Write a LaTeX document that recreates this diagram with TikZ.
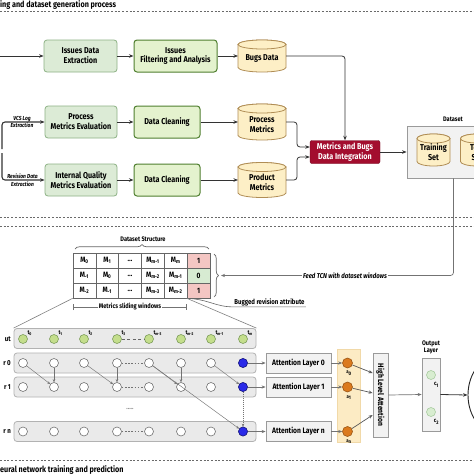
\documentclass[tikz,border=0pt]{standalone}
\usepackage{fontspec}
\setmainfont{Fira Sans}[FakeStretch=0.85]
\usetikzlibrary{arrows.meta,decorations.pathreplacing,calc,shapes.geometric}
\definecolor{gfillA}{HTML}{DCEBD6}
\definecolor{gdrawA}{HTML}{8DB285}
\definecolor{gfillB}{HTML}{E4F2CE}
\definecolor{gdrawB}{HTML}{4F7F2F}
\definecolor{cfill}{HTML}{FDEFC6}
\definecolor{cdraw}{HTML}{B08D55}
\definecolor{redbox}{HTML}{A30D2E}
\definecolor{grayfill}{HTML}{F2F2F2}
\definecolor{graydraw}{HTML}{9A9A9A}
\definecolor{rowfill}{HTML}{EAEAEA}
\definecolor{ingreen}{HTML}{C4DE8C}
\definecolor{ingreenD}{HTML}{7E9E5C}
\definecolor{blueN}{HTML}{2A2AE8}
\definecolor{orangeN}{HTML}{DB7A1E}
\definecolor{orangeCol}{HTML}{FCEBC4}
\definecolor{orangeColD}{HTML}{F1D9A8}
\definecolor{cellred}{HTML}{F4C6C3}
\definecolor{cellgreen}{HTML}{D7EBD2}
\definecolor{outc}{HTML}{D8EDD0}
\definecolor{outcD}{HTML}{A9CBA0}
\definecolor{dashc}{HTML}{6A6A6A}
\tikzset{
  fA/.style={font=\fontsize{8.5}{9.8}\selectfont\bfseries},
  fB/.style={font=\fontsize{7.9}{9}\selectfont\bfseries},
  fS/.style={font=\fontsize{6.6}{7.6}\selectfont\bfseries},
  fT/.style={font=\fontsize{5.8}{6.2}\selectfont\bfseries\itshape},
  boxA/.style={draw=gdrawA, fill=gfillA, rounded corners=3pt, line width=0.8pt, minimum width=73pt, minimum height=32pt, align=center, inner sep=1pt, fA},
  boxB/.style={boxA, draw=gdrawB, fill=gfillB, line width=1pt},
  redb/.style={draw=redbox!70!black, fill=redbox, text=white, rounded corners=2pt, minimum width=70pt, minimum height=23pt, align=center, inner sep=1pt, fA},
  grayb/.style={draw=graydraw, fill=grayfill, line width=0.8pt, inner sep=1pt},
  cylsty/.style={draw=cdraw, fill=cfill, line width=0.8pt},
  cyltxt/.style={align=center, inner sep=0pt, fA},
  arr/.style={-{Stealth[length=4.5pt,width=3.5pt]}, line width=0.8pt, draw=black!80},
  garr/.style={-{Stealth[length=4pt,width=3.2pt]}, line width=0.7pt, draw=black!55},
  conn/.style={-{Stealth[length=3pt,width=2.5pt]}, line width=0.45pt, draw=black!55},
  sep/.style={draw=dashc, line width=0.9pt, dash pattern=on 2pt off 1.7pt},
  cell/.style={draw=black!60, fill=white, line width=0.6pt, minimum width=22.83pt, minimum height=15pt, inner sep=0pt, font=\fontsize{7.7}{8}\selectfont\bfseries},
  brc/.style={decorate, decoration={brace, amplitude=4.5pt}, draw=black!60, line width=0.7pt},
  rowb/.style={draw=black!30, fill=rowfill, rounded corners=3pt, line width=0.8pt, minimum width=242pt, minimum height=20pt},
  cnode/.style={circle, minimum size=9pt, inner sep=0pt, line width=0.6pt, draw=black!55, fill=white},
  innode/.style={cnode, fill=ingreen, draw=ingreenD},
  bnode/.style={cnode, fill=blueN, draw=blueN!60!black},
  onode/.style={circle, minimum size=10pt, inner sep=0pt, line width=0.6pt, fill=orangeN, draw=orangeN!70!black},
  tl/.style={font=\fontsize{5.8}{6}\selectfont\bfseries, inner sep=0.5pt},
  rl/.style={font=\fontsize{7.2}{8}\selectfont\bfseries, anchor=east, inner sep=0pt},
}
\newcommand\mkcyl[6]{%
  \filldraw[cylsty] ({#2-#4/2},{-(#3)+#5/2-4.5}) -- ({#2-#4/2},{-(#3)-#5/2+4.5})
    arc[start angle=180,end angle=360,x radius=#4/2,y radius=4.5]
    -- ({#2+#4/2},{-(#3)+#5/2-4.5})
    arc[start angle=0,end angle=180,x radius=#4/2,y radius=4.5] -- cycle;
  \draw[cylsty] (#2,{-(#3)+#5/2-4.5}) ellipse[x radius=#4/2,y radius=4.5];
  \node[inner sep=0pt, outer sep=0pt, minimum width=#4pt, minimum height=#5pt] (#1) at (#2,-#3) {};
  \node[cyltxt] (#1-t) at (#2,{-(#3)-2.5}) {#6};}
\begin{document}
\begin{tikzpicture}[x=1pt,y=1pt]
\fill[white] (0,0) rectangle (474,-474);
\useasboundingbox (0,0) rectangle (474,-474);

% titles and separators
\node[fA, anchor=west, inner sep=0pt] (ttop) at (0,-4.5) {ing and dataset generation process};
\node[fA, anchor=west, inner sep=0pt] (tbot) at (0,-469.5) {eural network training and prediction};
\draw[sep] (0,-11) -- (474,-11);
\draw[sep] (0,-217) -- (474,-217);
\draw[sep] (0,-226) -- (474,-226);
\draw[sep] (0,-460) -- (474,-460);

% top panel
\node[boxA] (ide) at (80.5,-56) {Issues Data\\Extraction};
\node[boxB, minimum width=83pt] (ifa) at (175.5,-56) {Issues\\Filtering and Analysis};
\mkcyl{bugs}{262}{56}{48}{32}{Bugs Data}
\node[boxA, minimum width=72pt] (pme) at (81,-122) {Process\\Metrics Evaluation};
\node[boxB, minimum width=66pt] (dc1) at (167,-122) {Data Cleaning};
\mkcyl{pm}{262}{122}{48}{36}{Process\\Metrics}
\node[boxA, minimum width=72pt] (iqe) at (81,-180) {Internal Quality\\Metrics Evaluation};
\node[boxB, minimum width=66pt] (dc2) at (167,-180) {Data Cleaning};
\mkcyl{prm}{262}{180}{48}{35}{Product\\Metrics}
\node[redb] (integ) at (345,-152) {Metrics and Bugs\\Data Integration};
\node[grayb, minimum width=93pt, minimum height=52pt] (ds) at (453.5,-152) {};
\node[fS] (dslab) at (453,-119) {Dataset};
\mkcyl{train}{433.5}{150}{33}{32}{Training\\Set}
\mkcyl{test}{477}{150}{33}{32}{Test\\Set}

\coordinate (in1) at (0,-56);
\draw[arr] (in1) -- (ide.west);
\draw[arr] (ide.east) -- (ifa.west);
\draw[arr] (ifa.east) -- (bugs.west);
\draw[arr] (pme.east) -- (dc1.west);
\draw[arr] (dc1.east) -- (pm.west);
\draw[arr] (iqe.east) -- (dc2.west);
\draw[arr] (dc2.east) -- (prm.west);
\draw[arr, rounded corners=3pt] (bugs.east) -| (integ.north);
\draw[arr, rounded corners=3pt] (pm.east) -- ++(11,0) |- ([yshift=5pt]integ.west);
\draw[arr, rounded corners=3pt] (prm.east) -- ++(11,0) |- ([yshift=-5pt]integ.west);
\draw[arr] (integ.east) -- (integ.east -| ds.west);

\coordinate (fork) at (2,-151);
\draw[arr, line width=1.1pt, rounded corners=3pt] ([yshift=2pt]fork) |- (pme.west);
\draw[arr, line width=1.1pt, rounded corners=3pt] ([yshift=-2pt]fork) |- (iqe.west);
\node[fT, align=center] (vcs) at (22,-122) {VCS Log\\[1.4pt]Extraction};
\node[fT, align=center] (rev) at (22.5,-180) {Revision Data\\[1.4pt]Extraction};

% dataset structure
\foreach \t [count=\j] in {M\textsubscript{0},M\textsubscript{1},\ldots,M\textsubscript{m-1},M\textsubscript{m},1}
  \node[cell] (c1\j) at ({73+22.83*(\j-0.5)},-260.5) {\t};
\foreach \t [count=\j] in {M\textsubscript{-1},M\textsubscript{0},\ldots,M\textsubscript{m-2},M\textsubscript{m-1},0}
  \node[cell] (c2\j) at ({73+22.83*(\j-0.5)},-275.5) {\t};
\foreach \t [count=\j] in {M\textsubscript{-2},M\textsubscript{-1},\ldots,M\textsubscript{m-3},M\textsubscript{m-2},1}
  \node[cell] (c3\j) at ({73+22.83*(\j-0.5)},-290.5) {\t};
\node[cell, fill=cellred] at (c16) {1};
\node[cell, fill=cellgreen] at (c26) {0};
\node[cell, fill=cellred] at (c36) {1};

\draw[brc] (75,-249) -- (209,-249);
\node[fS] (dsst) at (143,-239) {Dataset Structure};
\draw[brc] (214,-254) -- (214,-297);
\coordinate (feedend) at (221,-275.5);
\draw[garr, rounded corners=3pt] (ds.south) |- (feedend);
\node[fill=white, inner sep=1.5pt, font=\fontsize{7}{7.5}\selectfont\bfseries\itshape] (feed) at (345,-275.5) {Feed TCN with dataset windows};

\coordinate (msw1) at (73,-307);
\coordinate (msw2) at (187,-307);
\draw[{Bar[width=6pt]}-{Bar[width=6pt]}, draw=black!55, line width=0.6pt] (msw1) -- (msw2);
\node[fill=white, inner sep=1pt, font=\fontsize{6.7}{7}\selectfont\bfseries] (mswl) at (130,-306.5) {Metrics sliding windows};
\node[font=\fontsize{7.1}{7.6}\selectfont\bfseries, inner sep=1pt] (bug) at (269.5,-302) {Bugged revision attribute};
\draw[black!60, line width=0.6pt] (c36.south west) .. controls +(22,-1) and +(-18,0) .. (bug.south west) -- (bug.south east);

% neural network
\node[rowb] (inrow) at (135,-338.5) {};
\node[rowb] (r0) at (135,-363) {};
\node[rowb] (r1) at (135,-387) {};
\node[rowb] (rn) at (135,-431.5) {};
\draw[black!50, line width=0.6pt] (c31.south west) -- (inrow.north west);
\draw[black!50, line width=0.6pt] (c36.south west) -- (inrow.north east);
\node[rl] (lin) at (11,-339) {ut};
\node[rl] (l0) at (11,-363) {r 0};
\node[rl] (l1) at (11,-387) {r 1};
\node[rl] (ln) at (11,-431.5) {r n};

\foreach \x [count=\k from 0] in {23,54,84,117,149,181,211,243}{
  \node[innode] (i\k) at (\x,-339) {};
  \node[cnode] (a\k) at (\x,-363) {};
  \node[cnode] (b\k) at (\x,-387) {};
  \node[cnode] (n\k) at (\x,-431.5) {};
}
\foreach \k in {a,b,n} \node[bnode] at (\k7) {};
\foreach \s [count=\k from 0] in {0,1,2,3,m-3,m-2,m-1,m}
  \node[tl, anchor=south west] at ([xshift=0.5pt,yshift=-1pt]i\k.north east) {t\textsubscript{\s}};
\draw[black!60, line width=0.6pt, dash pattern=on 3pt off 2.5pt] (i3) -- (i4);
\foreach \k in {a,b,n} \draw[black!55, line width=0.6pt, dash pattern=on 1.6pt off 1.6pt] (\k3) -- (\k4);
\node[font=\fontsize{7}{7}\selectfont\bfseries, text=black!45] (dots) at (130,-409) {.....};

\draw[conn] (a0) -- (b1);
\draw[conn] (a1) -- (b1);
\draw[conn] (a2) -- (b3);
\draw[conn] (a3) -- (b3);
\draw[conn] (a4) -- (b5);
\draw[conn] (a5) -- (b5);
\draw[conn] (a6) -- (b7);
\draw[conn] (a4) -- (n7);
\draw[conn, dash pattern=on 1pt off 1pt] (b7) -- (n7);

\node[grayb, minimum width=65pt, minimum height=20pt, fB] (att0) at (298.5,-363) {Attention Layer 0};
\node[grayb, minimum width=65pt, minimum height=20pt, fB] (att1) at (298.5,-387) {Attention Layer 1};
\node[grayb, minimum width=65pt, minimum height=20pt, fB] (attn) at (298.5,-431.5) {Attention Layer n};
\draw[garr] (a7) -- (att0.west);
\draw[garr] (b7) -- (att1.west);
\draw[garr] (n7) -- (attn.west);

\node[draw=orangeColD, fill=orangeCol, line width=0.6pt, minimum width=23pt, minimum height=93pt, inner sep=0pt] (ocol) at (348.5,-395.5) {};
\node[onode] (o0) at (347.5,-363) {};
\node[onode] (o1) at (347.5,-387) {};
\node[onode] (on) at (347.5,-431.5) {};
\node[font=\fontsize{5}{5}\selectfont\bfseries, inner sep=0pt] (oa0) at (349,-373.5) {a\textsubscript{0}};
\node[font=\fontsize{5}{5}\selectfont\bfseries, inner sep=0pt] (oa1) at (349,-397.5) {a\textsubscript{1}};
\node[font=\fontsize{5}{5}\selectfont\bfseries, inner sep=0pt] (oan) at (349,-442) {a\textsubscript{n}};
\draw[garr] (att0.east) -- (o0);
\draw[garr] (att1.east) -- (o1);
\draw[garr] (attn.east) -- (on);

\node[grayb, minimum width=15pt, minimum height=84pt] (hla) at (380.5,-395) {};
\node[fB, rotate=-90] (hlat) at (hla) {High Level Attention};
\draw[garr, draw=black!65] (o0) -- ([yshift=22pt]hla.west);
\draw[garr, draw=black!65] (o1) -- ([yshift=2pt]hla.west);
\draw[garr, draw=black!65] (on) -- ([yshift=-20pt]hla.west);

\node[fS, align=center] (outl) at (431,-347.5) {Output\\Layer};
\node[grayb, minimum width=18pt, minimum height=73pt] (outb) at (431,-394.5) {};
\node[circle, minimum size=9pt, inner sep=0pt, fill=outc, draw=outcD, line width=0.6pt] (oc1) at (431,-375) {};
\node[circle, minimum size=9pt, inner sep=0pt, fill=outc, draw=outcD, line width=0.6pt] (oc2) at (431,-412) {};
\node[font=\fontsize{6}{6}\selectfont\bfseries, inner sep=0pt] (oc1l) at (436.5,-385) {c\textsubscript{1}};
\node[font=\fontsize{6}{6}\selectfont\bfseries, inner sep=0pt] (oc2l) at (436.5,-422) {c\textsubscript{2}};
\draw[garr] (hla.east) -- (outb.west);
\node[ellipse, draw=black!85, line width=0.9pt, minimum width=64pt, minimum height=80pt] (ell) at (500,-395) {};
\draw[arr] (outb.east) -- (ell.west);
\end{tikzpicture}
\end{document}
